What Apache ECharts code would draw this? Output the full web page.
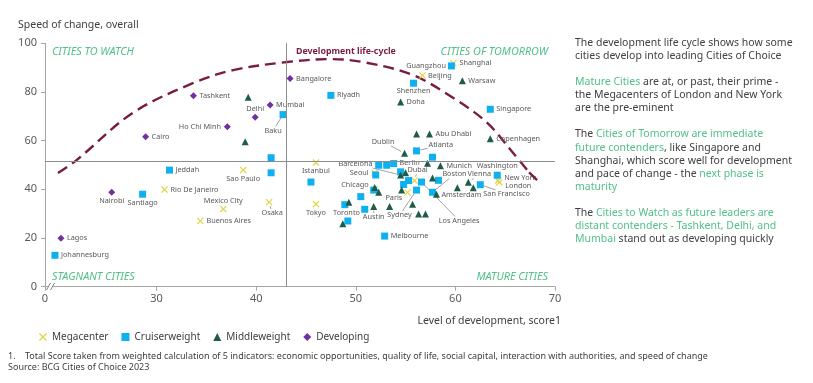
<!DOCTYPE html>
<html><head><meta charset="utf-8">
<script src="https://cdn.jsdelivr.net/npm/echarts@6/dist/echarts.min.js"></script>
<style>html,body{margin:0;padding:0;background:#fff}#c{width:813px;height:383px}</style>
</head><body><div id="c"></div>
<script>
// ---------------- DATA ----------------
const megaNames = ['Shanghai','Beijing','Istanbul','Seoul','Dubai','Paris','New York','London','Tokyo','Sao Paulo','Rio De Janeiro','Mexico City','Osaka','Buenos Aires'];
const megaX = [59.8, 56.7, 46.0, 51.9, 55.9, 55.2, 64.3, 64.4, 46.0, 38.7, 30.8, 36.7, 41.3, 34.4];
const megaY = [91.8, 86.8, 51.0, 46.8, 43.6, 38.7, 43.6, 42.8, 33.9, 47.9, 39.9, 31.9, 34.7, 27.0];

const cruiserNames = ['Baku','','','Riyadh','Guangzhou','Shenzhen','Singapore','Atlanta','','','','','','','','','Los Angeles','Sydney','Boston','','','','San Francisco','Washington','','Toronto','','','Melbourne','Jeddah','Santiago','Johannesburg'];
const cruiserX = [42.7, 41.5, 41.5, 47.5, 59.6, 55.8, 63.5, 56.1, 57.7, 52.3, 53.1, 53.8, 52.0, 54.5, 55.3, 54.8, 56.6, 56.1, 57.7, 58.3, 45.5, 51.8, 62.5, 64.2, 50.5, 48.9, 50.9, 49.2, 52.9, 31.3, 28.6, 19.8];
const cruiserY = [70.7, 53.0, 46.8, 78.6, 90.7, 83.6, 72.9, 55.8, 53.2, 49.9, 49.9, 50.6, 45.9, 47.2, 43.6, 42.0, 43.0, 39.7, 38.8, 43.7, 43.0, 39.7, 41.9, 45.8, 37.0, 33.7, 31.8, 27.0, 20.8, 47.9, 38.0, 12.9];

const middleNames = ['','','Warsaw','Doha','','Abu Dhabi','Copenhagen','Dublin','','Munich','Barcelona','Berlin','','Chicago','','','','Amsterdam','Vienna','','','Austin','','','','',''];
const middleX = [39.2, 38.9, 60.7, 54.5, 56.1, 57.4, 63.5, 54.9, 57.2, 58.5, 54.5, 55.0, 57.7, 51.9, 52.3, 54.6, 58.1, 60.2, 61.3, 61.8, 49.3, 51.8, 53.4, 55.7, 56.3, 57.0, 48.7];
const middleY = [77.8, 59.6, 84.6, 75.9, 62.7, 62.7, 60.8, 54.8, 50.7, 49.7, 45.9, 46.8, 44.7, 40.8, 38.8, 39.7, 38.0, 40.7, 42.9, 40.7, 34.7, 32.9, 32.9, 33.9, 29.9, 29.9, 25.9];

const devNames = ['Bangalore','Tashkent','Mumbai','Delhi','Ho Chi Minh','Cairo','Nairobi','Lagos'];
const devX = [43.4, 33.7, 41.4, 39.9, 37.1, 28.9, 25.5, 20.4];
const devY = [85.5, 78.5, 74.6, 69.6, 65.7, 61.6, 38.8, 19.9];

// development life-cycle curve
const curveX = [20.1, 22.0, 27.6, 33.7, 37.7, 43.1, 47.4, 50.7, 55.7, 59.8, 63.2, 65.8, 67.4];
const curveY = [46.7, 52.1, 71.4, 83.7, 89.0, 92.3, 93.5, 92.3, 87.0, 77.5, 67.3, 54.9, 47.0];
const arrowTip = [68.2, 43.8];

const dividerX = 43;
const dividerY = 51.6;

const xTickValues = [18.8, 30, 40, 50, 60, 70];
const xTickLabels = ['0', '30', '40', '50', '60', '70'];
const yMin = 0, yMax = 100, yStep = 20;

const seriesNames = ['Megacenter', 'Cruiserweight', 'Middleweight', 'Developing'];

// ---------------- LABEL LAYOUT (styling) ----------------
// [anchor: l = text starts at dx, r = text ends at dx, c = centred; dx; dy; leader line]
const R = ['l', 6, 0], L = ['r', -6, 0], T = ['c', 0, -8.5], B = ['c', 0, 8.5];
const labelSpec = {
  'Shanghai': R, 'Beijing': ['l', 5.6, 0.5], 'Istanbul': B, 'Seoul': ['r', -6, 0.6],
  'Dubai': ['c', 3, -10.3, true], 'Paris': ['r', -5.3, 5.4], 'New York': ['l', 6, -2.7], 'London': ['l', 6, 3.7],
  'Tokyo': B, 'Sao Paulo': B, 'Rio De Janeiro': R, 'Mexico City': ['c', 0, -7.7], 'Osaka': ['c', 3, 11, true],
  'Buenos Aires': R,
  'Baku': ['c', -10, 16, true], 'Riyadh': R, 'Guangzhou': ['r', -5.5, 0], 'Shenzhen': ['c', 0, 7.7],
  'Singapore': R, 'Atlanta': ['l', 12, -6, true], 'Los Angeles': ['c', 37.6, 38.6, true],
  'Sydney': ['c', -17, 25.3, true], 'Boston': ['c', 22, -18, true], 'San Francisco': ['l', 3, 9.3, true],
  'Washington': ['c', 0, -9], 'Toronto': ['c', 1.7, 8], 'Melbourne': R, 'Jeddah': R, 'Santiago': B,
  'Johannesburg': R,
  'Warsaw': R, 'Doha': R, 'Abu Dhabi': R, 'Copenhagen': R, 'Dublin': ['c', -21.5, -11.6, true],
  'Munich': R, 'Barcelona': ['r', -28, -11, true], 'Berlin': ['c', 4, -9.4], 'Chicago': ['r', -6, -2.3],
  'Amsterdam': ['c', 4, 7.3], 'Vienna': ['c', 11, -8, true], 'Austin': ['c', 0, 10.6, true],
  'Bangalore': R, 'Tashkent': R, 'Mumbai': R, 'Delhi': ['c', 0, -8.3], 'Ho Chi Minh': ['r', -6.3, 0],
  'Cairo': R, 'Nairobi': B, 'Lagos': R
};

const C = {
  mega: '#e2d447', cruiser: '#0fb0f0', middle: '#1e5b48', dev: '#7030a0',
  curve: '#7a1c42', green: '#52c089', text: '#404040', axis: '#595959', line: '#a6a6a6'
};
const FONT = '"Noto Sans", "Open Sans", sans-serif';
const LABEL_SIZE = 7.3;
const xSymbol = 'path://M0,1.2 L1.2,0 L5,3.8 L8.8,0 L10,1.2 L6.2,5 L10,8.8 L8.8,10 L5,6.2 L1.2,10 L0,8.8 L3.8,5 Z';

function build(names, xs, ys) {
  return xs.map((x, i) => {
    const n = names[i];
    const sp = labelSpec[n];
    return { name: n, value: [x, ys[i]], label: { show: !!(n && sp) } };
  });
}
const allNames = [megaNames, cruiserNames, middleNames, devNames];
const allX = [megaX, cruiserX, middleX, devX];
const allY = [megaY, cruiserY, middleY, devY];

function scatter(idx, symbol, size, color) {
  return {
    name: seriesNames[idx], type: 'scatter', symbol: symbol, symbolSize: size,
    data: build(allNames[idx], allX[idx], allY[idx]),
    itemStyle: { color: color, opacity: 1 },
    label: { show: false, formatter: '{b}', color: '#595959', fontSize: LABEL_SIZE, fontFamily: FONT },
    labelLayout: function (p) {
      const n = allNames[idx][p.dataIndex];
      const sp = labelSpec[n];
      if (!sp) return {};
      const cx = p.rect.x + p.rect.width / 2, cy = p.rect.y + p.rect.height / 2;
      return {
        x: cx + sp[1], y: cy + sp[2],
        align: sp[0] === 'l' ? 'left' : (sp[0] === 'r' ? 'right' : 'center'),
        verticalAlign: 'middle'
      };
    },
    z: 3
  };
}

// leader lines: built from the same data points, drawn through the axes
const leaderData = [];
allNames.forEach((names, s) => names.forEach((n, i) => {
  const sp = labelSpec[n];
  if (sp && sp[3]) leaderData.push([allX[s][i], allY[s][i], n]);
}));
function leaderItem(params, api) {
  const p = api.coord([api.value(0), api.value(1)]);
  const n = leaderData[params.dataIndex][2];
  const sp = labelSpec[n];
  const w = n.length * LABEL_SIZE * 0.52, hh = 4.2;
  let cx = sp[1];
  if (sp[0] === 'l') cx += w / 2; else if (sp[0] === 'r') cx -= w / 2;
  const cy = sp[2];
  const hw = w / 2 + 1;
  const t = Math.min(Math.abs(cx) > 1e-6 ? hw / Math.abs(cx) : 1e9, Math.abs(cy) > 1e-6 ? hh / Math.abs(cy) : 1e9);
  const ex = cx * (1 - t), ey = cy * (1 - t);
  const len = Math.sqrt(ex * ex + ey * ey);
  if (len < 4.5 || t >= 1) return null;
  const sx = ex / len * 4, sy = ey / len * 4;
  return {
    type: 'line', silent: true,
    shape: { x1: p[0] + sx, y1: p[1] + sy, x2: p[0] + ex, y2: p[1] + ey },
    style: { stroke: '#8c8c8c', lineWidth: 0.8 }
  };
}

// right-hand commentary
const panel = [
  [['n', 'The development life cycle shows how some']],
  [['n', 'cities develop into leading Cities of Choice']],
  [],
  [['g', 'Mature Cities'], ['n', ' are at, or past, their prime -']],
  [['n', 'the Megacenters of London and New York']],
  [['n', 'are the pre-eminent']],
  [],
  [['n', 'The '], ['g', 'Cities of Tomorrow are immediate']],
  [['g', 'future contenders'], ['n', ', like Singapore and']],
  [['n', 'Shanghai, which score well for development']],
  [['n', 'and pace of change - the '], ['g', 'next phase is']],
  [['g', 'maturity']],
  [],
  [['n', 'The '], ['g', 'Cities to Watch as future leaders are']],
  [['g', 'distant contenders - Tashkent, Delhi, and']],
  [['g', 'Mumbai'], ['n', ' stand out as developing quickly']]
];

const graphics = [];
panel.forEach((segs, i) => {
  if (!segs.length) return;
  graphics.push({
    type: 'text', left: 575, top: 44.3 + i * 13.09 - 7,
    style: {
      text: segs.map(s => '{' + s[0] + '|' + s[1] + '}').join(''),
      rich: {
        n: { fill: C.text, fontSize: 10.5, fontFamily: FONT },
        g: { fill: C.green, fontSize: 10.5, fontFamily: FONT }
      }
    }
  });
});

function txt(x, y, s, opt) {
  return Object.assign({ type: 'text', x: x, y: y, style: Object.assign({ text: s, fill: C.text, fontSize: 10.5, fontFamily: FONT, verticalAlign: 'middle' }, opt || {}) });
}
graphics.push(txt(18, 25, 'Speed of change, overall', { fill: '#404040' }));
graphics.push(txt(561, 321, 'Level of development, score1', { align: 'right' }));
graphics.push(txt(52, 52, 'CITIES TO WATCH', { fill: C.green, fontStyle: 'italic', fontSize: 10.8 }));
graphics.push(txt(548, 52, 'CITIES OF TOMORROW', { fill: C.green, fontStyle: 'italic', fontSize: 10.8, align: 'right' }));
graphics.push(txt(52, 277, 'STAGNANT CITIES', { fill: C.green, fontStyle: 'italic', fontSize: 10.8 }));
graphics.push(txt(548, 277, 'MATURE CITIES', { fill: C.green, fontStyle: 'italic', fontSize: 10.8, align: 'right' }));
graphics.push(txt(296, 51, 'Development life-cycle', { fill: C.curve, fontWeight: 'bold', fontSize: 8.8 }));
graphics.push(txt(8, 356, '1.    Total Score taken from weighted calculation of 5 indicators: economic opportunities, quality of life, social capital, interaction with authorities, and speed of change', { fontSize: 9 }));
graphics.push(txt(8, 367, 'Source: BCG Cities of Choice 2023', { fontSize: 9 }));
// axis break marks
graphics.push({ type: 'rect', shape: { x: 48, y: 284, width: 5, height: 5 }, style: { fill: '#fff' }, z: 10 });
graphics.push({ type: 'line', shape: { x1: 46.5, y1: 290, x2: 50.5, y2: 283 }, style: { stroke: '#7f7f7f', lineWidth: 1 }, z: 11 });
graphics.push({ type: 'line', shape: { x1: 50.5, y1: 290, x2: 54.5, y2: 283 }, style: { stroke: '#7f7f7f', lineWidth: 1 }, z: 11 });

const chart = echarts.init(document.getElementById('c'), null, { renderer: 'canvas' });
chart.setOption({
  animation: false,
  grid: { left: 45, right: 258, top: 43.3, bottom: 96.3 },
  xAxis: {
    type: 'value', min: xTickValues[0], max: xTickValues[xTickValues.length - 1],
    axisLine: { show: true, lineStyle: { color: C.line, width: 1 } },
    axisTick: { show: true, length: 4, lineStyle: { color: C.line }, customValues: xTickValues },
    axisLabel: {
      color: C.axis, fontSize: 11, fontFamily: FONT, margin: 7, customValues: xTickValues,
      formatter: v => { const i = xTickValues.indexOf(v); return i >= 0 ? xTickLabels[i] : ''; }
    },
    splitLine: { show: false }
  },
  yAxis: {
    type: 'value', min: yMin, max: yMax, interval: yStep,
    axisLine: { show: true, lineStyle: { color: C.line, width: 1 } },
    axisTick: { show: true, length: 4, lineStyle: { color: C.line } },
    axisLabel: { color: C.axis, fontSize: 11, fontFamily: FONT, margin: 8 },
    splitLine: { show: false }
  },
  legend: {
    data: seriesNames, left: 34, top: 327, itemWidth: 8, itemHeight: 8, itemGap: 13,
    textStyle: { color: C.text, fontSize: 10, fontFamily: FONT }
  },
  graphic: graphics,
  series: [
    {
      name: 'curve', type: 'line', smooth: 0.35, symbol: 'none', silent: true, z: 1,
      data: curveX.map((x, i) => [x, curveY[i]]),
      lineStyle: { color: C.curve, width: 2.4, type: [11, 6] },
      markLine: {
        silent: true, symbol: ['none', 'arrow'], symbolSize: [0, 9],
        lineStyle: { color: C.curve, width: 2.4, type: 'solid' },
        label: { show: false },
        data: [[{ coord: [curveX[curveX.length - 1], curveY[curveY.length - 1]] }, { coord: arrowTip }]]
      }
    },
    {
      name: 'leaders', type: 'custom', silent: true, z: 2,
      data: leaderData.map(d => [d[0], d[1]]),
      renderItem: leaderItem
    },
    scatter(0, xSymbol, 7, C.mega),
    Object.assign(scatter(1, 'rect', 7, C.cruiser), {
      markLine: {
        silent: true, symbol: 'none', label: { show: false },
        lineStyle: { color: '#8c8c8c', width: 1, type: 'solid' },
        data: [{ xAxis: dividerX }, { yAxis: dividerY }]
      }
    }),
    scatter(2, 'triangle', 7, C.middle),
    scatter(3, 'diamond', 7, C.dev)
  ]
});
</script></body></html>
